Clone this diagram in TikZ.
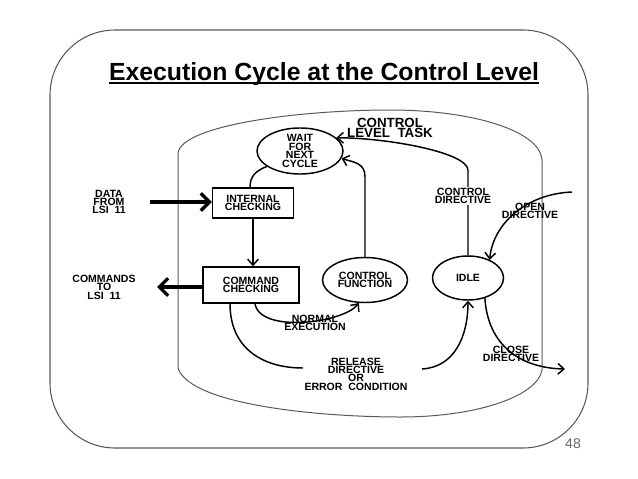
\documentclass[tikz,border=0pt]{standalone}
\usepackage{fontspec}
\setmainfont{Liberation Sans}
\usetikzlibrary{shapes.geometric, arrows.meta}
\lineskiplimit=-5pt

\begin{document}
\begin{tikzpicture}[x=0.75pt, y=-0.75pt,
  every node/.style={inner sep=0pt},
  txt/.style={font=\fontsize{7.9}{6.3}\selectfont\bfseries, align=center},
  box/.style={txt, draw, line width=1.1pt, rectangle},
  oval/.style={txt, draw, line width=1.1pt, ellipse},
  flow/.style={line width=1.1pt},
  arr/.style={flow, -{Straight Barb[length=4.5pt, width=8pt]}},
  bigarr/.style={line width=2.4pt, -{Straight Barb[length=6.5pt, width=13pt]}},
  frame/.style={draw=black!65, line width=0.8pt}]
  \useasboundingbox (0,0) rectangle (638,478);

  % slide frame and task region
  \draw[frame, rounded corners=48.75pt] (50,30) rectangle (588,448);
  \draw[frame, line width=0.75pt] (178,368) -- (178,153)
    .. controls (182,125) and (300,110) .. (390,110)
    .. controls (470,110) and (540,130) .. (542,160) -- (542,370)
    .. controls (538,395) and (480,417) .. (400,417)
    .. controls (320,417) and (190,405) .. (178,368);

  \node[font=\fontsize{18.6}{20}\selectfont\bfseries, anchor=base] (title) at (324,80) {Execution Cycle at the Control Level};
  \draw[line width=1.3pt] ([yshift=-2.3pt]title.base west) -- ([yshift=-2.3pt]title.base east);
  \node[font=\fontsize{10.5}{12}\selectfont, text=black!60, anchor=base] (pagenum) at (573,448) {48};

  % states
  \node[oval, minimum width=64.5pt, minimum height=34.5pt] (wait) at (300,151) {WAIT\\FOR\\NEXT\\CYCLE};
  \node[box, minimum width=60.75pt, minimum height=22.5pt] (intchk) at (253,203) {INTERNAL\\CHECKING};
  \node[box, minimum width=72pt, minimum height=27pt] (cmdchk) at (251,285) {COMMAND\\CHECKING};
  \node[oval, minimum width=63.75pt, minimum height=33.75pt] (ctrlfn) at (365,280) {CONTROL\\FUNCTION};
  \node[oval, minimum width=53.25pt, minimum height=33pt] (idle) at (468,278) {IDLE};

  \node[txt] (datain) at (109,202) {DATA\\FROM\\LSI\ \ 11};
  \node[txt] (cmdout) at (104,287) {COMMANDS\\TO\\LSI\ \ 11};
  \coordinate (openstart) at (572,192);
  \coordinate (closeend) at (565,369);
  \coordinate (relleft) at (303,368);
  \coordinate (relright) at (422,369);

  % transitions
  \draw[bigarr] ([xshift=18pt]datain.east) -- (intchk.west |- datain);
  \draw[bigarr] (cmdchk.west |- cmdout) -- ([xshift=16pt]cmdout.east);
  \draw[flow] (wait.205) .. controls +(-10,4) and +(0,-12) .. ([xshift=-2.25pt]intchk.north);
  \draw[arr] (intchk.south) -- (intchk.south |- cmdchk.north);
  \draw[arr] (ctrlfn.north) -- ++(0,-80) .. controls +(0,-14) and +(12,4) .. (wait.-10);
  \draw[arr] (idle.north) -- ++(0,-85) .. controls +(0,-18) and +(50,0) .. (wait.20);
  \draw[arr] (openstart) .. controls +(-47,2) and +(3,-35) .. (idle.40);
  \draw[arr] (idle.-50) .. controls +(3,47) and +(-45,-1) .. (closeend);
  \draw[arr] ([xshift=3pt]cmdchk.south) .. controls +(5,30) and +(-15,20) .. (ctrlfn.-105);
  \draw[flow] ([xshift=-15.75pt]cmdchk.south) .. controls +(0,45) and +(-40,0) .. (relleft);
  \draw[arr] (relright) .. controls +(33,-2) and +(0,35) .. (idle.south);

  % labels
  \node[txt, font=\fontsize{10}{7.8}\selectfont\bfseries] (task) at (390,128) {CONTROL\\LEVEL\ \ TASK};
  \node[txt, fill=white, inner sep=1pt] (ctrldir) at (463,196) {CONTROL\\DIRECTIVE};
  \node[txt] (opendir) at (530,211) {OPEN\\DIRECTIVE};
  \node[txt] (closedir) at (511,354) {CLOSE\\DIRECTIVE};
  \node[txt] (normexe) at (315,323) {NORMAL\\EXECUTION};
  \node[txt] (reldir) at (356,374) {RELEASE\\DIRECTIVE\\OR\\ERROR\ \ CONDITION};
\end{tikzpicture}
\end{document}
